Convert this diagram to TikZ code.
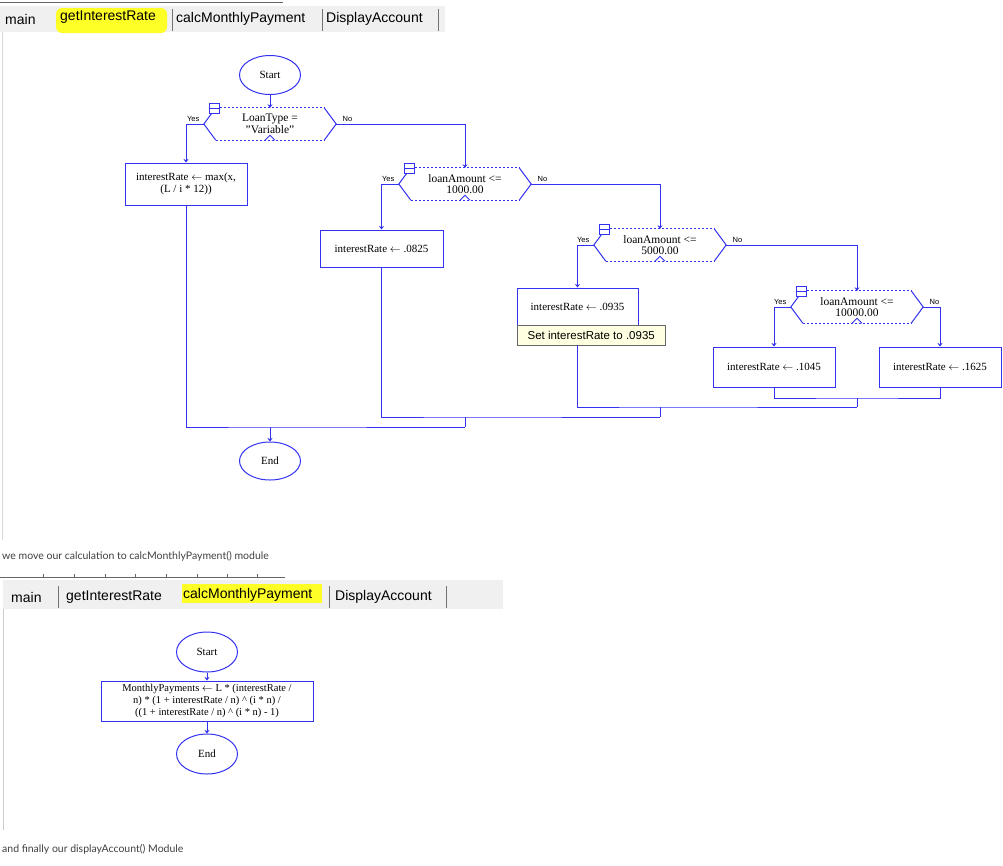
\documentclass[tikz,border=0pt]{standalone}
\usepackage{fontspec}
\setmainfont{Liberation Serif}
\newfontfamily\tabf{Liberation Sans}
\newfontfamily\capf{Lato}
\usetikzlibrary{arrows.meta,shapes.geometric}
\definecolor{fb}{RGB}{50,50,240}
\definecolor{tabbg}{RGB}{240,240,240}
\definecolor{hl}{RGB}{255,255,40}
\definecolor{tip}{RGB}{255,255,225}
\begin{document}
\begin{tikzpicture}[x=1pt,y=-1pt,
  term/.style={draw=fb,line width=1pt,ellipse,minimum width=61pt,minimum height=39pt,inner sep=0pt,font=\fontsize{11}{12}\selectfont},
  proc/.style={draw=fb,line width=1pt,rectangle,inner sep=1pt,align=center,font=\fontsize{11}{12}\selectfont},
  dec/.style={rectangle,minimum width=108pt,minimum height=32pt,inner sep=0pt,align=center,font=\fontsize{11.5}{11.5}\selectfont},
  lab/.style={font=\fontsize{7.5}{8}\tabf},
  ln/.style={fb,line width=1pt},
  ar/.style={fb,line width=1pt,-{Stealth[length=3.5pt,width=5pt]}},
  tab/.style={font=\fontsize{14}{16}\tabf,anchor=west,inner sep=0pt},
  captxt/.style={font=\fontsize{10.5}{12}\capf,text=black!75,anchor=west,inner sep=0pt}]
\useasboundingbox (0,0) rectangle (1003,865);
\fill[white] (0,0) rectangle (1003,865);
% ---------- first screenshot frame ----------
\fill[tabbg] (0,6) rectangle (445,32);
\draw[black!60,thick] (0,2) -- (283,2);
\draw[black!15] (2,32) -- (2,540);
\fill[hl,rounded corners=6pt] (56,8) rectangle (167,33);
\node[tab] (t1a) at (5,19) {main};
\node[tab] (t1b) at (60,17) {getInterestRate};
\node[tab] (t1c) at (176,19) {calcMonthlyPayment};
\node[tab] (t1d) at (326,19) {DisplayAccount};
\foreach \x in {172,322,438} \draw[black!55,thick] (\x,9) -- (\x,31);
\node[term] (s1) at (270,75) {Start};
\node[dec] (d1) at (270,124) {LoanType =\\"Variable"};
\node[dec] (d2) at (465,184) {loanAmount <=\\1000.00};
\node[dec] (d3) at (660,245) {loanAmount <=\\5000.00};
\node[dec] (d4) at (857,307) {loanAmount <=\\10000.00};
\foreach \d in {d1,d2,d3,d4}{
  \coordinate (\d L) at ([xshift=-12pt]\d.west);
  \coordinate (\d R) at ([xshift=12pt]\d.east);
  \draw[fb,line width=0.8pt,dash pattern=on 2pt off 2pt] (\d.north west) -- (\d.north east);
  \draw[fb,line width=0.8pt,dash pattern=on 2pt off 2pt] (\d.south west) -- (\d.south east);
  \draw[ln] (\d.north west) -- (\d L) -- (\d.south west);
  \draw[ln] (\d.north east) -- (\d R) -- (\d.south east);
  \draw[fb,line width=0.8pt] ([xshift=-5pt]\d.south) -- ([yshift=5pt]\d.south) -- ([xshift=5pt]\d.south);
  \draw[fb,line width=0.9pt,fill=white] ([xshift=-6pt,yshift=-6pt]\d.north west) rectangle ([xshift=4pt,yshift=4pt]\d.north west);
  \draw[fb,line width=0.9pt] ([xshift=-6pt,yshift=-1pt]\d.north west) -- ([xshift=4pt,yshift=-1pt]\d.north west);
  \node[lab,anchor=south east] at ([xshift=-1pt,yshift=-1pt]\d L) {Yes};
  \node[lab,anchor=south west] at ([xshift=3pt,yshift=-1pt]\d R) {No};
}
\node[proc,minimum width=122pt,minimum height=42pt] (b1) at (186,184) {interestRate $\leftarrow$ max(x,\\(L / i * 12))};
\node[proc,minimum width=123pt,minimum height=37pt] (b2) at (381.5,248.5) {interestRate $\leftarrow$ .0825};
\node[proc,minimum width=121pt,minimum height=37pt] (b3) at (577.5,306.5) {interestRate $\leftarrow$ .0935};
\node[draw=black!60,fill=tip,font=\fontsize{11.5}{12}\tabf,inner sep=2pt,anchor=north west,minimum width=148pt,minimum height=20pt] (tt) at (517,325) {Set interestRate to .0935};
\node[proc,minimum width=122pt,minimum height=40pt] (b4) at (774,367) {interestRate $\leftarrow$ .1045};
\node[proc,minimum width=122pt,minimum height=40pt] (b5) at (940,367) {interestRate $\leftarrow$ .1625};
\node[term,minimum height=38pt] (e1) at (270,461) {End};
\draw[ar] (s1) -- (d1.north);
\draw[ar] (d1L) -| (b1.north);
\draw[ar] (d1R) -| (d2.north);
\draw[ar] (d2L) -| (b2.north);
\draw[ar] (d2R) -| (d3.north);
\draw[ar] (d3L) -| (b3.north);
\draw[ar] (d3R) -| (d4.north);
\draw[ar] (d4L) -| (b4.north);
\draw[ar] (d4R) -| (b5.north);
\coordinate (m4) at (857,398);
\coordinate (m3) at (660,407);
\coordinate (m2) at (465,417);
\coordinate (m1) at (270,427);
\draw[ln] (b4.south) |- (m4) -| (b5.south);
\draw[ln] (m4) -- (m4 |- m3);
\draw[ln] (tt.south -| b3.south) |- (m3) -- (m4 |- m3);
\draw[ln] (m3) -- (m3 |- m2);
\draw[ln] (b2.south) |- (m2) -- (m3 |- m2);
\draw[ln] (m2) -- (m2 |- m1);
\draw[ln] (b1.south) |- (m1) -- (m2 |- m1);
\draw[ar] (m1) -- (e1.north);
\node[captxt] (c1) at (2,556) {we move our calculation to calcMonthlyPayment() module};
% ---------- second screenshot ----------
\fill[tabbg] (3,580) rectangle (503,609);
\draw[black!60,thick] (0,577) -- (285,577);
\foreach \x in {43,74,105,135,166,197,227,257} \draw[black!60] (\x,574) -- (\x,577);
\draw[black!20,thick] (3,609) -- (3,830);
\fill[hl] (182,584) rectangle (322,603);
\node[tab] (t2a) at (11,597) {main};
\node[tab] (t2b) at (66,597) {getInterestRate};
\node[tab] (t2c) at (183,595) {calcMonthlyPayment};
\node[tab] (t2d) at (335,597) {DisplayAccount};
\foreach \x in {58,329,446} \draw[black!55,thick] (\x,586) -- (\x,608);
\node[term,minimum height=40pt] (s2) at (207,652) {Start};
\node[proc,minimum width=212pt,minimum height=40pt,inner sep=0pt,font=\fontsize{10.5}{12}\selectfont] (bm) at (207,701) {MonthlyPayments $\leftarrow$ L * (interestRate /\\n) * (1 + interestRate / n) \^{} (i * n) /\\((1 + interestRate / n) \^{} (i * n) - 1)};
\node[term,minimum height=40pt] (e2) at (207,754) {End};
\draw[ar] (s2) -- (bm);
\draw[ar] (bm) -- (e2);
\node[captxt] (c2) at (2,849) {and finally our displayAccount() Module};
\end{tikzpicture}
\end{document}
